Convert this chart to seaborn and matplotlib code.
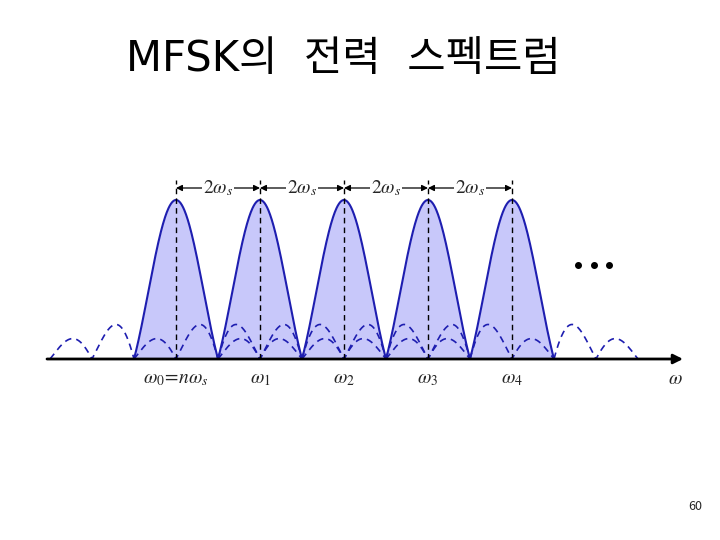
import numpy as np
import pandas as pd
import matplotlib
matplotlib.use("Agg")
import matplotlib.pyplot as plt
import seaborn as sns

sns.set_theme(style="white")
plt.rcParams['font.family'] = ['Noto Sans CJK KR', 'DejaVu Sans']
plt.rcParams['mathtext.fontset'] = 'stix'

# ---- data ----
title = "MFSK의  전력  스펙트럼"
centers = [0, 2, 4, 6, 8]                 # carrier positions (units of ω_s)
peak_heights = [1.0, 1.0, 1.0, 1.0, 1.0]
tone_labels = [r"$\omega_0\!=\!n\omega_s$", r"$\omega_1$", r"$\omega_2$", r"$\omega_3$", r"$\omega_4$"]
spacing_label = r"$2\omega_s$"
axis_label = r"$\omega$"
page_number = "60"

# ---- pixel-based layout helpers ----
PX0, UPX = 176.0, 42.0     # px of ω0, px per unit
BASE, HPX = 359.0, 159.0   # baseline px, px per unit height
W, H = 720, 540

fig = plt.figure(figsize=(7.2, 5.4), dpi=100)
ax = fig.add_axes([0, 0, 1, 1])
ax.set_xlim((0 - PX0) / UPX, (W - PX0) / UPX)
ax.set_ylim(-(H - BASE) / HPX, BASE / HPX)
ax.axis("off")

blue = "#1e1eb0"
fill_c = "#c8c8fa"

rows_main, rows_side = [], []
for k, (c, h) in enumerate(zip(centers, peak_heights)):
    xm = np.linspace(c - 1, c + 1, 201)
    ym = h * np.abs(np.sinc(xm - c))
    ax.fill_between(xm, 0, ym, color=fill_c, lw=0, zorder=1)
    rows_main.append(pd.DataFrame({"x": xm, "y": ym, "lobe": f"m{k}"}))
    for a, b in [(c - 3, c - 1), (c + 1, c + 3)]:
        xs = np.linspace(a, b, 201)
        ys = h * np.abs(np.sinc(xs - c))
        rows_side.append(pd.DataFrame({"x": xs, "y": ys, "lobe": f"s{k}_{a}"}))

main_df = pd.concat(rows_main)
side_df = pd.concat(rows_side)
sns.lineplot(data=side_df, x="x", y="y", units="lobe", estimator=None, sort=False,
             color=blue, lw=1.2, ax=ax, zorder=3, linestyle=(0, (4, 3)))
sns.lineplot(data=main_df, x="x", y="y", units="lobe", estimator=None, sort=False,
             color=blue, lw=1.5, ax=ax, zorder=4)

# vertical dashed guide lines
top = (BASE - 180) / HPX
for c in centers:
    ax.plot([c, c], [0, top], color="black", lw=1.0, linestyle=(0, (4, 3)), zorder=5)

# dimension arrows
ydim = (BASE - 188) / HPX
for c0, c1 in zip(centers[:-1], centers[1:]):
    ax.annotate("", xy=(c1, ydim), xytext=(c0, ydim),
                arrowprops=dict(arrowstyle="<|-|>", color="black", lw=0.9,
                                shrinkA=0, shrinkB=0, mutation_scale=9), zorder=6)
    ax.text((c0 + c1) / 2, ydim, spacing_label, ha="center", va="center", fontsize=14,
            bbox=dict(facecolor="white", edgecolor="none", pad=1.0), zorder=7)

# x axis with arrow
ax.annotate("", xy=((683 - PX0) / UPX, 0), xytext=((47 - PX0) / UPX, 0),
            arrowprops=dict(arrowstyle="-|>", color="black", lw=2.0,
                            shrinkA=0, shrinkB=0, mutation_scale=14), zorder=8)

ylab = (BASE - 378) / HPX
for c, lab in zip(centers, tone_labels):
    ax.text(c, ylab, lab, ha="center", va="center", fontsize=14)
ax.text((675 - PX0) / UPX, ylab, axis_label, ha="center", va="center", fontsize=14)

# ellipsis dots
for px in [578, 594, 609]:
    ax.plot((px - PX0) / UPX, (BASE - 265) / HPX, "o", color="black", ms=4, zorder=5)

fig.text(126 / W, 1 - 59 / H, title, ha="left", va="center", fontsize=30,
         color="black", family=["DejaVu Sans", "Noto Sans CJK KR"])
fig.text(695 / W, 1 - 507 / H, page_number, ha="center", va="center", fontsize=9)

fig.savefig("out.png", dpi=100)
